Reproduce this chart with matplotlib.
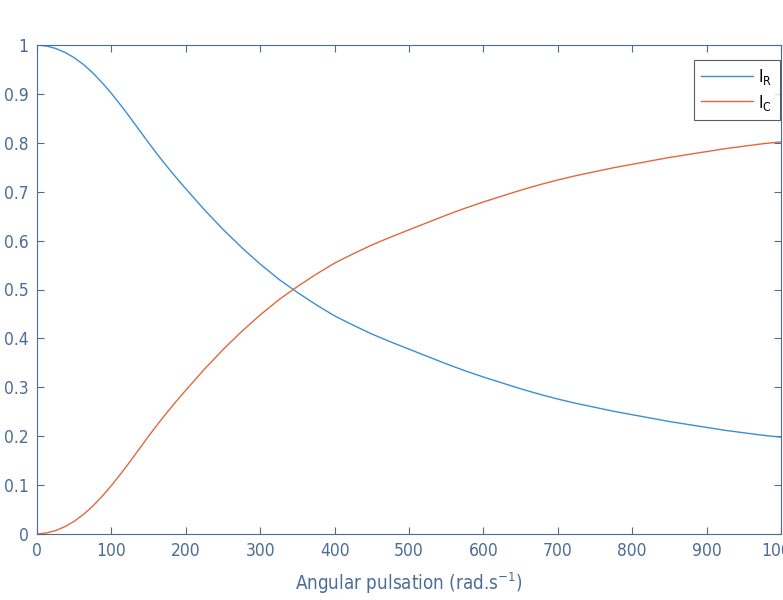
import numpy as np
import matplotlib
matplotlib.use('Agg')
import matplotlib.pyplot as plt

# angular pulsation (rad/s) and normalised currents
w = [0, 12.5, 25, 37.5, 50, 62.5, 75, 87.5, 100, 112.5, 125, 137.5, 150,
     162.5, 175, 187.5, 200, 225, 250, 275, 300, 325, 350, 375, 400, 425,
     450, 475, 500, 525, 550, 575, 600, 625, 650, 675, 700, 725, 750, 775,
     800, 825, 850, 875, 900, 925, 950, 975, 1000]
i_r = [1.000, 0.998, 0.993, 0.985, 0.974, 0.960, 0.943, 0.923, 0.901, 0.877,
       0.852, 0.826, 0.800, 0.775, 0.751, 0.728, 0.706, 0.663, 0.623, 0.586,
       0.552, 0.521, 0.494, 0.469, 0.446, 0.427, 0.409, 0.393, 0.378, 0.363,
       0.348, 0.334, 0.321, 0.309, 0.297, 0.286, 0.276, 0.267, 0.259, 0.251,
       0.244, 0.237, 0.230, 0.224, 0.218, 0.212, 0.207, 0.202, 0.198]
i_c = [0.000, 0.002, 0.007, 0.015, 0.026, 0.040, 0.057, 0.077, 0.099, 0.123,
       0.148, 0.174, 0.200, 0.225, 0.249, 0.272, 0.294, 0.337, 0.377, 0.414,
       0.448, 0.479, 0.506, 0.531, 0.554, 0.573, 0.591, 0.607, 0.622, 0.637,
       0.652, 0.666, 0.679, 0.691, 0.703, 0.714, 0.724, 0.733, 0.741, 0.749,
       0.756, 0.763, 0.770, 0.776, 0.782, 0.788, 0.793, 0.798, 0.802]

x_ticks = [0, 100, 200, 300, 400, 500, 600, 700, 800, 900, 1000]
y_ticks = [0, 0.1, 0.2, 0.3, 0.4, 0.5, 0.6, 0.7, 0.8, 0.9, 1]
y_labels = ['0', '0.1', '0.2', '0.3', '0.4', '0.5', '0.6', '0.7', '0.8', '0.9', '1']

axcol = '#4c6c98'
plt.rcParams['font.family'] = ['DejaVu Sans']
plt.rcParams['font.stretch'] = 'condensed'

fig = plt.figure(figsize=(7.83, 6.0), dpi=100)
ax = fig.add_axes([37/783, 66/600, 744/783, 489/600])

ax.plot(w, i_r, color='#3b8fd2', lw=1.0, label=r'$\mathregular{I_R}$')
ax.plot(w, i_c, color='#e2683c', lw=1.0, label=r'$\mathregular{I_C}$')

ax.set_xlim(0, 1000)
ax.set_ylim(0, 1)
ax.set_xticks(x_ticks)
ax.set_yticks(y_ticks)
ax.set_yticklabels(y_labels)
ax.tick_params(direction='in', length=5, width=0.8, colors=axcol,
               labelsize=12.5, top=True, right=True, pad=6)
for s in ax.spines.values():
    s.set_color(axcol)
    s.set_linewidth(0.8)

ax.set_xlabel(r'Angular pulsation (rad.s$^{\mathregular{-1}}$)', color=axcol,
              fontsize=13.5, labelpad=7)

leg = ax.legend(loc='upper right', fontsize=12.5, frameon=True, fancybox=False,
                edgecolor='#333333', handlelength=3.0, handletextpad=0.3,
                borderpad=0.42, labelspacing=0.32, borderaxespad=0.0,
                bbox_to_anchor=(0.9985, 0.97))
leg.get_frame().set_linewidth(0.8)

fig.savefig('out.png', dpi=100)
